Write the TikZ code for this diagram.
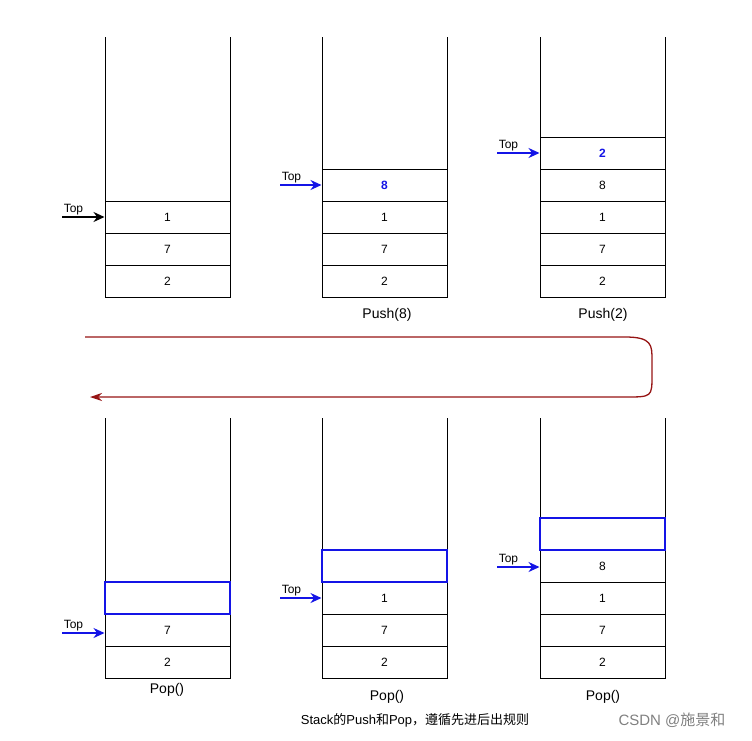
\documentclass[tikz,border=0pt]{standalone}
\usepackage{fontspec}
\setmainfont{Liberation Sans}
\newfontfamily\cjk{Noto Sans CJK SC}
\usetikzlibrary{positioning,arrows.meta}
\definecolor{darkred}{RGB}{150,20,20}
\definecolor{topblue}{RGB}{20,20,230}
\tikzset{
  cell/.style={draw,line width=1pt,minimum width=125pt,minimum height=32pt,inner sep=0pt,font=\fontsize{12}{14}\selectfont},
  newcell/.style={cell,draw=topblue,line width=2pt},
  pushed/.style={cell,text=topblue,font=\fontsize{12}{14}\selectfont\bfseries},
  toparrow/.style={-{Stealth[length=11pt,width=10pt]},line width=1.6pt,topblue},
  toplabel/.style={font=\fontsize{12}{14}\selectfont,above right,inner sep=1pt},
  caption/.style={font=\fontsize{14}{16}\selectfont}
}
\begin{document}
\begin{tikzpicture}[x=1pt,y=-1pt]
  \useasboundingbox (0,0) rectangle (752,740);
  % stack walls
  \foreach \x/\y in {105/37,322/37,540/37,105/418,322/418,540/418}{
    \draw[line width=1pt] (\x,\y) -- (\x,\y+260);
    \draw[line width=1pt] (\x+125,\y) -- (\x+125,\y+260);
  }
  % top row
  \node[cell] (a2) at (167.5,281) {2};
  \node[cell] (a7) at (167.5,249) {7};
  \node[cell] (a1) at (167.5,217) {1};
  \node[cell] (b2) at (384.5,281) {2};
  \node[cell] (b7) at (384.5,249) {7};
  \node[cell] (b1) at (384.5,217) {1};
  \node[pushed] (b8) at (384.5,185) {8};
  \node[cell] (c2) at (602.5,281) {2};
  \node[cell] (c7) at (602.5,249) {7};
  \node[cell] (c1) at (602.5,217) {1};
  \node[cell] (c8) at (602.5,185) {8};
  \node[pushed] (cc2) at (602.5,153) {2};
  \node[caption] (push8) at (387,315) {Push(8)};
  \node[caption] (push2) at (603,315) {Push(2)};
  % bottom row
  \node[cell] (d2) at (167.5,662) {2};
  \node[cell] (d7) at (167.5,630) {7};
  \node[newcell] (d1) at (167.5,598) {};
  \node[cell] (e2) at (384.5,662) {2};
  \node[cell] (e7) at (384.5,630) {7};
  \node[cell] (e1) at (384.5,598) {1};
  \node[newcell] (e8) at (384.5,566) {};
  \node[cell] (f2) at (602.5,662) {2};
  \node[cell] (f7) at (602.5,630) {7};
  \node[cell] (f1) at (602.5,598) {1};
  \node[cell] (f8) at (602.5,566) {8};
  \node[newcell] (ff2) at (602.5,534) {};
  \node[caption] (popa) at (167,690) {Pop()};
  \node[caption] (popb) at (387,697) {Pop()};
  \node[caption] (popc) at (603,697) {Pop()};
  % top pointers
  \coordinate (ta) at (62,217);
  \coordinate (tb) at (280,185);
  \coordinate (tc) at (497,153);
  \coordinate (td) at (62,633);
  \coordinate (te) at (280,598);
  \coordinate (tf) at (497,567);
  \draw[toparrow,black] (ta) -- (a1.west) node[toplabel,black] at (ta) {Top};
  \draw[toparrow] (tb) -- (b8.west) node[toplabel,black] at (tb) {Top};
  \draw[toparrow] (tc) -- (cc2.west) node[toplabel,black] at (tc) {Top};
  \draw[toparrow] (td) -- (d7.west |- td) node[toplabel,black] at (td) {Top};
  \draw[toparrow] (te) -- (e1.west) node[toplabel,black] at (te) {Top};
  \draw[toparrow] (tf) -- (f8.west |- tf) node[toplabel,black] at (tf) {Top};
  % turn-around arrow
  \coordinate (s) at (85,337);
  \coordinate (t) at (90,397);
  \draw[darkred,line width=1.3pt,-{Stealth[length=12pt,width=8pt]}] (s) -- (625,337)
    .. controls (652,337) and (652,345) .. (652,360) -- (652,375)
    .. controls (652,397) .. (625,397) -- (t);
  % caption
  \node[font=\fontsize{13}{15}\selectfont] (cap) at (415,720) {Stack{\cjk 的}Push{\cjk 和}Pop{\cjk ，遵循先进后出规则}};
  \node[font=\fontsize{15}{17}\selectfont,text=gray] (wm) at (672,720) {CSDN @{\cjk 施景和}};
\end{tikzpicture}
\end{document}
